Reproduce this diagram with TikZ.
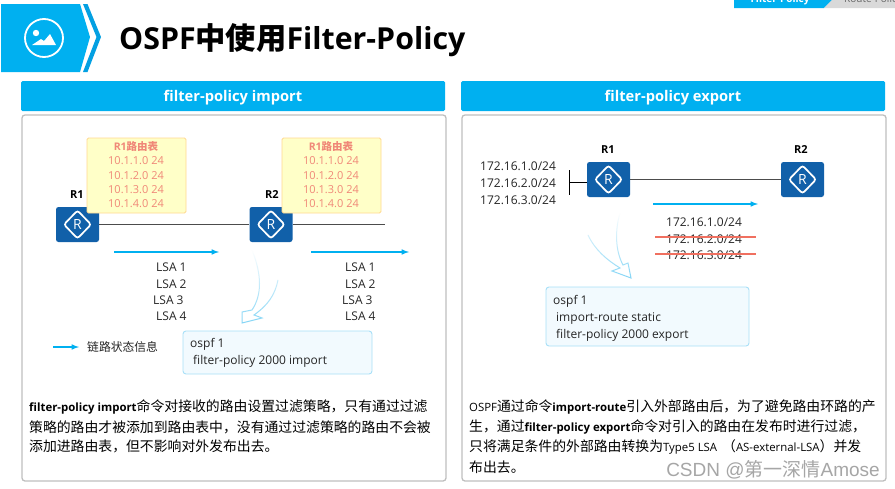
\documentclass[tikz,border=0pt]{standalone}
\usepackage{fontspec}
\setmainfont{Open Sans}
\newfontfamily\cjk{Noto Sans CJK SC}
\newfontfamily\wmfont{Liberation Sans}
\newfontfamily\latfont{Open Sans}
\usetikzlibrary{arrows,fadings,positioning}
\definecolor{skyblue}{HTML}{00B0F0}
\definecolor{routerblue}{HTML}{1160A9}
\definecolor{tablefill}{HTML}{FFFFC8}
\definecolor{tableedge}{HTML}{FFD890}
\definecolor{tabletext}{HTML}{F08878}
\definecolor{cfgfill}{HTML}{F2FAFE}
\definecolor{cfgedge}{HTML}{A8E0F8}
\definecolor{paneledge}{HTML}{BFBFBF}
\definecolor{strikered}{HTML}{F07060}
\newcommand{\sz}[1]{\fontsize{#1}{#1}\selectfont}
\tikzstyle{header}=[fill=skyblue, rounded corners=1.5, text=white, font=\sz{14.7}\bfseries, minimum width=424, minimum height=30, inner sep=0, text depth=0]
\tikzstyle{panel}=[draw=paneledge, line width=1.3, rounded corners=3, fill=white, minimum width=424, minimum height=366, inner sep=0]
\tikzstyle{router}=[fill=routerblue, rounded corners=2.5, minimum width=43, minimum height=35, inner sep=0, text=white, font=\sz{14},
  path picture={\draw[white, line width=1.7] ([xshift=-13.5]path picture bounding box.center) -- ([yshift=14]path picture bounding box.center) -- ([xshift=13.5]path picture bounding box.center) -- ([yshift=-14]path picture bounding box.center) -- cycle;}]
\tikzstyle{rname}=[font=\sz{11}\bfseries, inner sep=0]
\tikzstyle{rtable}=[draw=tableedge, fill=tablefill, line width=0.9, rounded corners=1.5, minimum width=99, minimum height=75, inner sep=0]
\tikzstyle{rtext}=[text=tabletext, font=\sz{11}, inner sep=0]
\tikzstyle{plain}=[font=\sz{12}, text=black!85, inner sep=0]
\tikzstyle{lefttext}=[plain, anchor=west]
\tikzstyle{cfgbox}=[draw=cfgedge, fill=cfgfill, line width=0.9, rounded corners=3, inner sep=0]
\tikzstyle{lsaflow}=[draw=skyblue, line width=1.5, -latex]
\tikzstyle{link}=[draw=black!70, line width=1.2]
\tikzstyle{strike}=[draw=strikered, line width=1.4]
\tikzstyle{curvearrow}=[draw=cfgedge!80!skyblue, line width=1]
\tikzstyle{para}=[anchor=west, inner sep=0, text=black, font=\sz{13.85}\cjk]
\newcommand{\latb}[1]{{\sz{11.4}\latfont\bfseries #1}}
\newcommand{\latn}[1]{{\sz{11.4}\latfont #1}}
\begin{document}
\begin{tikzpicture}[x=1pt, y=-1pt]
    \useasboundingbox (0,0) rectangle (895,488);
    % Title banner and icon
    \fill[skyblue] (1,4) -- (80,4) -- (90,37) -- (80,72) -- (1,72) -- cycle;
    \fill[skyblue!80!routerblue] (83,4) -- (87.5,4) -- (101,37) -- (87.5,72) -- (83,72) -- (96.5,37) -- cycle;
    \draw[white, line width=1.8] (44,38) circle (19);
    \fill[white] (36,33) circle (3.2);
    \fill[white] (32,45) -- (41,39) -- (44,41) -- (50,34) -- (56,45) -- cycle;
    \node[anchor=west, inner sep=0, font=\sz{30.3}\bfseries] (title) at (119,40) {OSPF{\cjk 中使用}Filter-Policy};
    % Tabs at the top
    \fill[skyblue] (734,0) -- (832,0) -- (824,8) -- (734,8) -- cycle;
    \fill[black!15] (832,0) -- (895,0) -- (895,8) -- (824,8) -- cycle;
    \begin{scope}
      \clip (734,0) rectangle (895,8);
      \node[text=white, font=\sz{10}\bfseries, inner sep=0] (tabone) at (780,0) {Filter-Policy};
      \node[anchor=west, text=black!60, font=\sz{10}, inner sep=0] (tabtwo) at (844,0) {Route-Policy};
    \end{scope}

    % Panels
    \node[header] (headimp) at (233,96) {filter-policy import};
    \node[header] (headexp) at (673,96) {filter-policy export};
    \node[panel] (panimp) at (234,298) {};
    \node[panel] (panexp) at (674,298) {};

    % Import side: routers and tables
    \node[router] (r1) at (77.5,224.5) {R};
    \node[router] (r2) at (271,224.5) {R};
    \coordinate (linkend) at (385,224.5);
    \draw[link] (r1) -- (r2);
    \draw[link] (r2) -- (linkend);
    \node[rname] (r1name) at (77,195) {R1};
    \node[rname] (r2name) at (272,195) {R2};
    \node[rtable] (tab1) at (136.5,175.5) {};
    \node[rtable] (tab2) at (331.5,175.5) {};
    \node[rtext, font=\sz{10.5}\bfseries] (tab1t) at (136,147) {R1{\cjk 路由表}};
    \node[rtext] (tab1a) at (136,161) {10.1.1.0 24};
    \node[rtext] (tab1b) at (136,175.5) {10.1.2.0 24};
    \node[rtext] (tab1c) at (136,190) {10.1.3.0 24};
    \node[rtext] (tab1d) at (136,203.5) {10.1.4.0 24};
    \node[rtext, font=\sz{10.5}\bfseries] (tab2t) at (331,147) {R1{\cjk 路由表}};
    \node[rtext] (tab2a) at (331,161) {10.1.1.0 24};
    \node[rtext] (tab2b) at (331,175.5) {10.1.2.0 24};
    \node[rtext] (tab2c) at (331,190) {10.1.3.0 24};
    \node[rtext] (tab2d) at (331,203.5) {10.1.4.0 24};

    % LSA flow
    \coordinate (fl1a) at (114,252);
    \coordinate (fl1b) at (219,252);
    \coordinate (fl2a) at (311,252);
    \coordinate (fl2b) at (409,252);
    \coordinate (fl3a) at (53,347);
    \coordinate (fl3b) at (79,347);
    \draw[lsaflow] (fl1a) -- (fl1b);
    \draw[lsaflow] (fl2a) -- (fl2b);
    \draw[lsaflow] (fl3a) -- (fl3b);
    \node[lefttext] (lsaa1) at (156,267) {LSA 1};
    \node[lefttext] (lsaa2) at (156,284) {LSA 2};
    \node[lefttext] (lsaa3) at (153,300) {LSA 3};
    \node[lefttext] (lsaa4) at (156,316) {LSA 4};
    \node[lefttext] (lsab1) at (345,267) {LSA 1};
    \node[lefttext] (lsab2) at (345,284) {LSA 2};
    \node[lefttext] (lsab3) at (342,300) {LSA 3};
    \node[lefttext] (lsab4) at (345,316) {LSA 4};
    \node[lefttext, font=\sz{11.8}\cjk] (legend) at (87,347) {链路状态信息};

    \node[cfgbox, minimum width=189, minimum height=43] (cfgimp) at (277.5,352.5) {};
    \node[lefttext] (cfgimpa) at (190,344) {ospf 1};
    \node[lefttext] (cfgimpb) at (193,361) {filter-policy 2000 import};
    \draw[curvearrow, path fading=north] (252,250) .. controls (262,275) and (262,295) .. (252,310) -- (242,312) -- (242,323) -- (262,318) -- (254,315) .. controls (268,305) and (275,295) .. (278,280);

    % Export side
    \node[router] (r3) at (608.5,179.5) {R};
    \node[router] (r4) at (802.5,179.5) {R};
    \draw[link] (r3) -- (r4);
    \node[rname] (r3name) at (608,150) {R1};
    \node[rname] (r4name) at (801,150) {R2};
    \coordinate (stubmid) at (569,182);
    \coordinate (stubtop) at (569,170);
    \coordinate (stubbot) at (569,195);
    \draw[black, line width=0.9] (stubtop) -- (stubbot);
    \draw[black, line width=0.9] (stubmid) -- (stubmid -| r3.west);
    \node[lefttext] (neta) at (480,166) {172.16.1.0/24};
    \node[lefttext] (netb) at (480,183) {172.16.2.0/24};
    \node[lefttext] (netc) at (480,200) {172.16.3.0/24};
    \coordinate (fl4a) at (653,204);
    \coordinate (fl4b) at (758,204);
    \draw[lsaflow] (fl4a) -- (fl4b);
    \node[plain] (seta) at (704,222.5) {172.16.1.0/24};
    \node[plain] (setb) at (704,239) {172.16.2.0/24};
    \node[plain] (setc) at (704,255.5) {172.16.3.0/24};
    \coordinate (stra) at (655,237);
    \coordinate (strb) at (756,237);
    \coordinate (strc) at (655,254);
    \coordinate (strd) at (756,254);
    \draw[strike] (stra) -- (strb);
    \draw[strike] (strc) -- (strd);

    \node[cfgbox, minimum width=203, minimum height=59] (cfgexp) at (647.5,316.5) {};
    \node[lefttext] (cfgexpa) at (553,301) {ospf 1};
    \node[lefttext] (cfgexpb) at (556,319) {import-route static};
    \node[lefttext] (cfgexpc) at (556,335) {filter-policy 2000 export};
    \draw[curvearrow, path fading=north] (588,235) .. controls (595,250) and (607,260) .. (620,268) -- (612,271) -- (631,278) -- (628,263) -- (623,265) .. controls (615,250) and (615,230) .. (620,213);

    % Text below the diagrams
    \node[para] (impa) at (29,407) {\latb{filter-policy import}命令对接收的路由设置过滤策略，只有通过过滤};
    \node[para] (impb) at (29,427) {策略的路由才被添加到路由表中，没有通过过滤策略的路由不会被};
    \node[para] (impc) at (29,446) {添加进路由表，但不影响对外发布出去。};
    \node[para] (expa) at (469,407) {\latn{OSPF}通过命令\latb{import-route}引入外部路由后，为了避免路由环路的产};
    \node[para] (expb) at (469,427) {生，通过\latb{filter-policy export}命令对引入的路由在发布时进行过滤，};
    \node[para] (expc) at (469,447) {只将满足条件的外部路由转换为\latn{Type5 LSA}\hspace{5pt}（\latn{AS-external-LSA}）并发};
    \node[para] (expd) at (469,467) {布出去。};
    \node[anchor=east, inner sep=0, text=black!35, font=\sz{19}\wmfont] (mark) at (880,470) {CSDN @{\cjk 第一深情}Amose};
\end{tikzpicture}
\end{document}
